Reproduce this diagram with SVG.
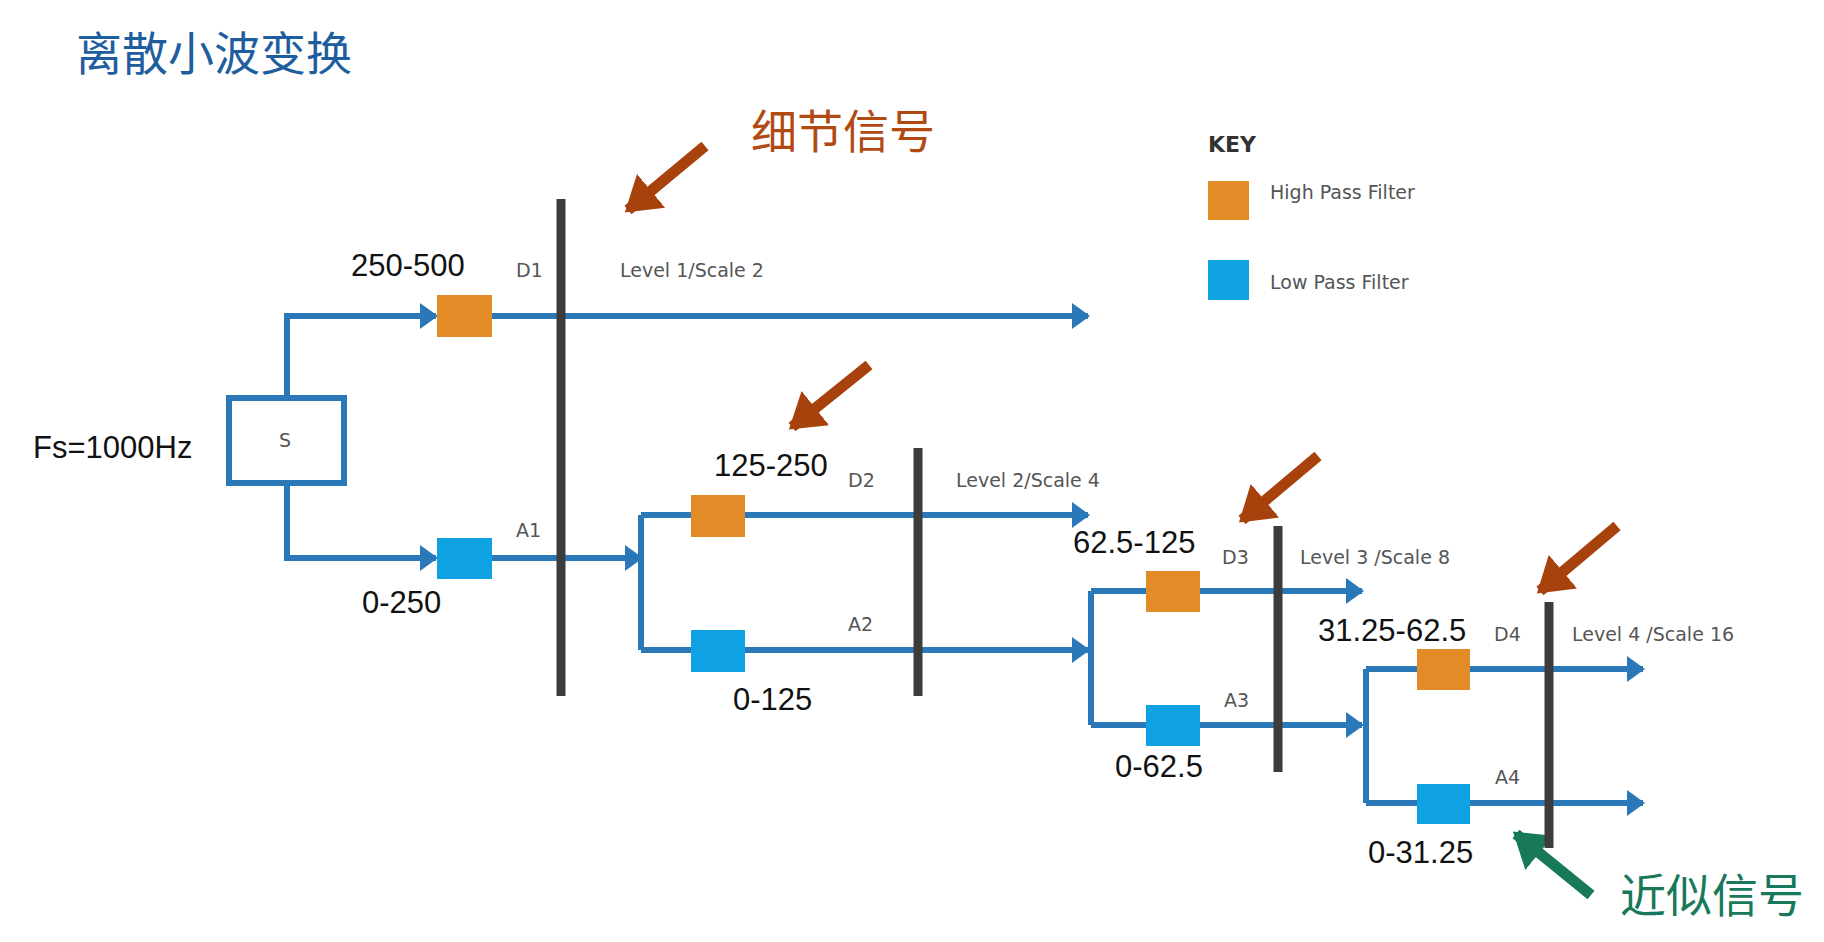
<svg xmlns="http://www.w3.org/2000/svg" width="1824" height="942" viewBox="0 0 1824 942">
<style>
.ln{fill:none;stroke:#2b78b8;stroke-width:6}
.bar{stroke:#3c3c3c;stroke-width:9}
.hp{fill:#e38b26}
.lp{fill:#0ea2e2}
.num{font-family:"Liberation Sans",Arial,sans-serif;font-size:31px;fill:#111}
.sm{font-family:"DejaVu Sans",sans-serif;font-size:19px;fill:#555}
.cn{font-family:"Noto Sans CJK SC",sans-serif;font-size:46px}
.br{stroke:#a8420c;stroke-width:11;fill:none}
</style>
<defs>
<marker id="ab" markerUnits="userSpaceOnUse" markerWidth="20" markerHeight="26" refX="16" refY="13" orient="auto"><path d="M0,0 L18,13 L0,26 Z" fill="#2b78b8"/></marker>
<marker id="ar" markerUnits="userSpaceOnUse" markerWidth="40" markerHeight="44" refX="30" refY="22" orient="auto"><path d="M0,0 L34,22 L0,44 Z" fill="#a8420c"/></marker>
<marker id="ag" markerUnits="userSpaceOnUse" markerWidth="40" markerHeight="44" refX="30" refY="22" orient="auto"><path d="M0,0 L34,22 L0,44 Z" fill="#17795a"/></marker>
</defs>
<rect width="1824" height="942" fill="#fff"/>
<text x="76" y="70" class="cn" fill="#1f5e9e">离散小波变换</text>
<text x="751" y="148" class="cn" fill="#b04a12">细节信号</text>
<text x="1620" y="912" class="cn" fill="#17795a">近似信号</text>
<g id="key">
<text x="1208" y="152" font-family="DejaVu Sans,sans-serif" font-weight="bold" font-size="22" fill="#333">KEY</text>
<rect x="1208" y="181" width="41" height="39" class="hp"/>
<text x="1270" y="199" class="sm">High Pass Filter</text>
<rect x="1208" y="260" width="41" height="40" class="lp"/>
<text x="1270" y="289" class="sm">Low Pass Filter</text>
</g>
<g id="connectors">
<path class="ln" d="M287,395 V316 H436" marker-end="url(#ab)"/>
<path class="ln" d="M492,316 H1088" marker-end="url(#ab)"/>
<path class="ln" d="M287,483 V558 H436" marker-end="url(#ab)"/>
<path class="ln" d="M492,558 H641" marker-end="url(#ab)"/>
<path class="ln" d="M641,515 V650"/>
<path class="ln" d="M641,515 H1088" marker-end="url(#ab)"/>
<path class="ln" d="M641,650 H1088" marker-end="url(#ab)"/>
<path class="ln" d="M1091,591 V725"/>
<path class="ln" d="M1091,591 H1362" marker-end="url(#ab)"/>
<path class="ln" d="M1091,725 H1362" marker-end="url(#ab)"/>
<path class="ln" d="M1366,669 V803"/>
<path class="ln" d="M1366,669 H1643" marker-end="url(#ab)"/>
<path class="ln" d="M1366,803 H1643" marker-end="url(#ab)"/>
<path class="br" d="M705,146 L628,210" marker-end="url(#ar)"/>
<path class="br" d="M869,365 L792,427" marker-end="url(#ar)"/>
<path class="br" d="M1318,456 L1242,520" marker-end="url(#ar)"/>
<path class="br" d="M1617,526 L1540,591" marker-end="url(#ar)"/>
<path d="M1591,895 L1516,834" stroke="#17795a" stroke-width="11" fill="none" marker-end="url(#ag)"/>
</g>
<g id="bars">
<line class="bar" x1="561" y1="199" x2="561" y2="696"/>
<line class="bar" x1="918" y1="448" x2="918" y2="696"/>
<line class="bar" x1="1278" y1="526" x2="1278" y2="772"/>
<line class="bar" x1="1549" y1="602" x2="1549" y2="848"/>
</g>
<g id="S">
<rect x="229" y="398" width="115" height="85" fill="#fff" stroke="#2b78b8" stroke-width="6"/>
<text x="285" y="447" class="sm" text-anchor="middle">S</text>
<text x="33" y="458" class="num">Fs=1000Hz</text>
</g>
<g id="L1">
<rect x="437" y="295" width="55" height="42" class="hp"/>
<rect x="437" y="538" width="55" height="41" class="lp"/>
<text x="351" y="276" class="num">250-500</text>
<text x="516" y="277" class="sm">D1</text>
<text x="620" y="277" class="sm">Level 1/Scale 2</text>
<text x="516" y="537" class="sm">A1</text>
<text x="362" y="613" class="num">0-250</text>
</g>
<g id="L2">
<rect x="691" y="495" width="54" height="42" class="hp"/>
<rect x="691" y="630" width="54" height="42" class="lp"/>
<text x="714" y="476" class="num">125-250</text>
<text x="848" y="487" class="sm">D2</text>
<text x="956" y="487" class="sm">Level 2/Scale 4</text>
<text x="848" y="631" class="sm">A2</text>
<text x="733" y="710" class="num">0-125</text>
</g>
<g id="L3">
<rect x="1146" y="571" width="54" height="41" class="hp"/>
<rect x="1146" y="705" width="54" height="41" class="lp"/>
<text x="1073" y="553" class="num">62.5-125</text>
<text x="1222" y="564" class="sm">D3</text>
<text x="1300" y="564" class="sm">Level 3 /Scale 8</text>
<text x="1224" y="707" class="sm">A3</text>
<text x="1115" y="777" class="num">0-62.5</text>
</g>
<g id="L4">
<rect x="1417" y="649" width="53" height="41" class="hp"/>
<rect x="1417" y="784" width="53" height="40" class="lp"/>
<text x="1318" y="641" class="num">31.25-62.5</text>
<text x="1494" y="641" class="sm">D4</text>
<text x="1572" y="641" class="sm">Level 4 /Scale 16</text>
<text x="1495" y="784" class="sm">A4</text>
<text x="1368" y="863" class="num">0-31.25</text>
</g>
</svg>
